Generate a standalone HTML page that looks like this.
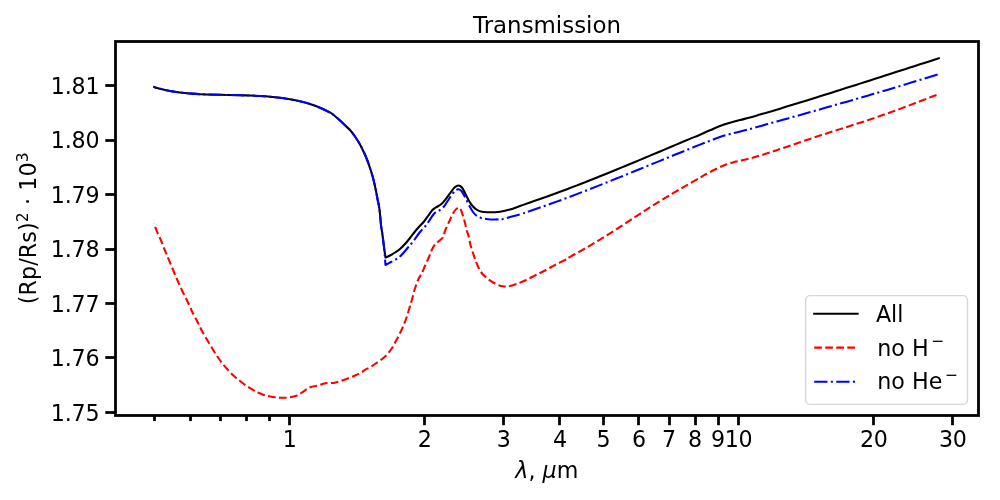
<!DOCTYPE html>
<html lang="en"><head><meta charset="utf-8"><title>Transmission</title>
<style>html,body{margin:0;padding:0;background:#fff;width:1000px;height:500px;overflow:hidden}</style>
</head><body>
<svg width="1000" height="500" viewBox="0 0 1000 500" style="display:block;position:absolute;left:0;top:0">
<rect width="1000" height="500" fill="#fff"/>
<g font-family="'DejaVu Sans', 'Liberation Sans', sans-serif" font-size="22.2px" fill="#000">
<defs><clipPath id="c"><rect x="115.5" y="41.5" width="863.0" height="374.0"/></clipPath></defs>
<g clip-path="url(#c)" fill="none" stroke-linejoin="round">
<path d="M154.20,87.10C155.17,87.38 157.37,88.15 160.00,88.80C162.63,89.45 166.67,90.38 170.00,91.00C173.33,91.62 176.67,92.08 180.00,92.50C183.33,92.92 186.67,93.22 190.00,93.50C193.33,93.78 195.00,93.98 200.00,94.20C205.00,94.42 213.33,94.62 220.00,94.80C226.67,94.98 235.00,95.18 240.00,95.30C245.00,95.42 246.67,95.38 250.00,95.50C253.33,95.62 256.67,95.80 260.00,96.00C263.33,96.20 266.67,96.40 270.00,96.70C273.33,97.00 276.67,97.37 280.00,97.80C283.33,98.23 286.67,98.72 290.00,99.30C293.33,99.88 296.67,100.52 300.00,101.30C303.33,102.08 306.67,102.93 310.00,104.00C313.33,105.07 316.67,106.28 320.00,107.70C323.33,109.12 327.83,111.37 330.00,112.50C332.17,113.63 331.33,113.17 333.00,114.50C334.67,115.83 338.00,118.70 340.00,120.50C342.00,122.30 343.33,123.72 345.00,125.30C346.67,126.88 348.33,128.13 350.00,130.00C351.67,131.87 353.33,134.08 355.00,136.50C356.67,138.92 358.50,141.83 360.00,144.50C361.50,147.17 362.83,150.00 364.00,152.50C365.17,155.00 366.00,156.92 367.00,159.50C368.00,162.08 369.08,165.25 370.00,168.00C370.92,170.75 371.75,173.33 372.50,176.00C373.25,178.67 373.92,181.50 374.50,184.00C375.08,186.50 375.50,188.50 376.00,191.00C376.50,193.50 376.92,195.92 377.50,199.00C378.08,202.08 378.92,205.17 379.50,209.50C380.08,213.83 380.50,220.75 381.00,225.00C381.50,229.25 382.00,231.33 382.50,235.00C383.00,238.67 383.50,243.25 384.00,247.00C384.50,250.75 385.25,255.75 385.50,257.50L385.50,257.50C386.25,257.17 388.42,256.33 390.00,255.50C391.58,254.67 393.33,253.58 395.00,252.50C396.67,251.42 398.33,250.42 400.00,249.00C401.67,247.58 403.33,245.83 405.00,244.00C406.67,242.17 408.33,240.08 410.00,238.00C411.67,235.92 413.33,233.53 415.00,231.50C416.67,229.47 418.50,227.47 420.00,225.80C421.50,224.13 422.67,223.13 424.00,221.50C425.33,219.87 426.67,217.83 428.00,216.00C429.33,214.17 430.83,211.83 432.00,210.50C433.17,209.17 433.67,208.92 435.00,208.00C436.33,207.08 438.67,205.92 440.00,205.00C441.33,204.08 441.83,203.75 443.00,202.50C444.17,201.25 445.67,199.25 447.00,197.50C448.33,195.75 449.75,193.67 451.00,192.00C452.25,190.33 453.25,188.58 454.50,187.50C455.75,186.42 457.25,185.50 458.50,185.50C459.75,185.50 460.92,186.25 462.00,187.50C463.08,188.75 463.83,190.75 465.00,193.00C466.17,195.25 467.67,198.75 469.00,201.00C470.33,203.25 471.67,205.03 473.00,206.50C474.33,207.97 475.50,208.92 477.00,209.80C478.50,210.68 480.17,211.38 482.00,211.80C483.83,212.22 486.00,212.23 488.00,212.30C490.00,212.37 492.00,212.28 494.00,212.20C496.00,212.12 497.33,212.25 500.00,211.80C502.67,211.35 506.67,210.47 510.00,209.50C513.33,208.53 516.67,207.17 520.00,206.00C523.33,204.83 526.67,203.67 530.00,202.51C533.33,201.35 536.67,200.23 540.00,199.06C543.33,197.89 546.67,196.70 550.00,195.49C553.33,194.29 556.67,193.07 560.00,191.83C563.33,190.59 566.67,189.33 570.00,188.07C573.33,186.80 576.67,185.51 580.00,184.22C583.33,182.92 586.67,181.61 590.00,180.29C593.33,178.97 596.67,177.64 600.00,176.30C603.33,174.96 606.67,173.61 610.00,172.25C613.33,170.89 616.67,169.53 620.00,168.15C623.33,166.78 626.67,165.40 630.00,164.02C633.33,162.63 636.67,161.24 640.00,159.85C643.33,158.45 646.67,157.06 650.00,155.66C653.33,154.26 656.67,152.86 660.00,151.45C663.33,150.05 666.67,148.65 670.00,147.25C673.33,145.85 676.67,144.45 680.00,143.05C683.33,141.65 686.67,140.25 690.00,138.86C693.33,137.47 696.67,136.14 700.00,134.70C703.33,133.27 706.67,131.70 710.00,130.25C713.33,128.80 716.67,127.25 720.00,126.00C723.33,124.75 726.67,123.75 730.00,122.75C733.33,121.75 736.67,120.87 740.00,120.00C743.33,119.13 746.67,118.42 750.00,117.52C753.33,116.62 756.67,115.58 760.00,114.60C763.33,113.62 766.67,112.63 770.00,111.64C773.33,110.64 776.67,109.64 780.00,108.64C783.33,107.63 786.67,106.62 790.00,105.60C793.33,104.58 796.67,103.56 800.00,102.53C803.33,101.50 806.67,100.47 810.00,99.43C813.33,98.40 816.67,97.35 820.00,96.31C823.33,95.26 826.67,94.22 830.00,93.16C833.33,92.11 836.67,91.06 840.00,90.00C843.33,88.94 846.67,87.88 850.00,86.81C853.33,85.75 856.67,84.69 860.00,83.62C863.33,82.55 866.67,81.48 870.00,80.41C873.33,79.34 876.67,78.27 880.00,77.20C883.33,76.13 886.67,75.06 890.00,73.98C893.33,72.91 896.67,71.84 900.00,70.76C903.33,69.69 906.67,68.62 910.00,67.55C913.33,66.48 916.67,65.41 920.00,64.34C923.33,63.27 926.87,62.14 930.00,61.14C933.13,60.13 937.33,58.80 938.80,58.33" stroke="#000" stroke-width="2.08" stroke-linecap="square"/>
<path d="M154.00,223.50C154.42,224.65 155.33,227.57 156.50,230.40C157.67,233.23 159.58,237.12 161.00,240.50C162.42,243.88 163.67,247.42 165.00,250.70C166.33,253.98 167.58,256.82 169.00,260.20C170.42,263.58 172.00,267.45 173.50,271.00C175.00,274.55 176.50,278.08 178.00,281.50C179.50,284.92 180.92,288.17 182.50,291.50C184.08,294.83 186.08,298.58 187.50,301.50C188.92,304.42 190.25,307.33 191.00,309.00C191.75,310.67 191.00,309.50 192.00,311.50C193.00,313.50 195.33,317.75 197.00,321.00C198.67,324.25 200.25,327.75 202.00,331.00C203.75,334.25 205.63,337.33 207.50,340.50C209.37,343.67 211.62,347.42 213.20,350.00C214.78,352.58 215.53,353.83 217.00,356.00C218.47,358.17 220.17,360.67 222.00,363.00C223.83,365.33 226.00,367.83 228.00,370.00C230.00,372.17 232.00,374.17 234.00,376.00C236.00,377.83 238.00,379.42 240.00,381.00C242.00,382.58 244.00,384.12 246.00,385.50C248.00,386.88 250.00,388.13 252.00,389.30C254.00,390.47 256.00,391.55 258.00,392.50C260.00,393.45 262.00,394.35 264.00,395.00C266.00,395.65 268.00,396.02 270.00,396.40C272.00,396.78 273.83,397.07 276.00,397.30C278.17,397.53 280.67,397.80 283.00,397.80C285.33,397.80 287.67,397.68 290.00,397.30C292.33,396.92 295.00,396.30 297.00,395.50C299.00,394.70 300.33,393.58 302.00,392.50C303.67,391.42 305.50,389.92 307.00,389.00C308.50,388.08 309.33,387.53 311.00,387.00C312.67,386.47 315.17,386.27 317.00,385.80C318.83,385.33 320.58,384.63 322.00,384.20C323.42,383.77 324.17,383.40 325.50,383.20C326.83,383.00 328.42,383.08 330.00,383.00C331.58,382.92 333.33,383.00 335.00,382.70C336.67,382.40 338.00,381.85 340.00,381.20C342.00,380.55 344.50,379.75 347.00,378.80C349.50,377.85 352.50,376.63 355.00,375.50C357.50,374.37 360.33,372.95 362.00,372.00C363.67,371.05 363.67,370.58 365.00,369.80C366.33,369.02 368.33,368.27 370.00,367.30C371.67,366.33 372.67,365.63 375.00,364.00C377.33,362.37 381.33,359.92 384.00,357.50C386.67,355.08 388.92,352.42 391.00,349.50C393.08,346.58 394.75,343.25 396.50,340.00C398.25,336.75 400.00,333.25 401.50,330.00C403.00,326.75 404.25,323.92 405.50,320.50C406.75,317.08 407.92,313.00 409.00,309.50C410.08,306.00 411.00,303.00 412.00,299.50C413.00,296.00 413.92,291.92 415.00,288.50C416.08,285.08 417.42,281.45 418.50,279.00C419.58,276.55 420.42,275.97 421.50,273.80C422.58,271.63 423.75,268.80 425.00,266.00C426.25,263.20 427.83,259.75 429.00,257.00C430.17,254.25 431.00,251.58 432.00,249.50C433.00,247.42 433.83,245.92 435.00,244.50C436.17,243.08 437.67,242.25 439.00,241.00C440.33,239.75 441.92,238.92 443.00,237.00C444.08,235.08 444.50,232.00 445.50,229.50C446.50,227.00 447.92,224.33 449.00,222.00C450.08,219.67 451.08,217.33 452.00,215.50C452.92,213.67 453.67,212.17 454.50,211.00C455.33,209.83 456.25,209.03 457.00,208.50C457.75,207.97 458.33,207.55 459.00,207.80C459.67,208.05 460.33,208.63 461.00,210.00C461.67,211.37 462.33,213.83 463.00,216.00C463.67,218.17 464.42,220.75 465.00,223.00C465.58,225.25 465.83,227.08 466.50,229.50C467.17,231.92 468.33,234.92 469.00,237.50C469.67,240.08 469.83,242.42 470.50,245.00C471.17,247.58 472.17,250.42 473.00,253.00C473.83,255.58 474.58,258.08 475.50,260.50C476.42,262.92 477.33,265.25 478.50,267.50C479.67,269.75 480.92,272.08 482.50,274.00C484.08,275.92 486.08,277.50 488.00,279.00C489.92,280.50 492.00,281.88 494.00,283.00C496.00,284.12 498.17,285.12 500.00,285.70C501.83,286.28 503.33,286.45 505.00,286.50C506.67,286.55 508.00,286.45 510.00,286.00C512.00,285.55 514.50,284.72 517.00,283.80C519.50,282.88 522.00,281.88 525.00,280.50C528.00,279.12 531.67,277.17 535.00,275.50C538.33,273.83 541.67,272.25 545.00,270.50C548.33,268.75 551.67,266.75 555.00,265.00C558.33,263.25 562.50,261.36 565.00,260.00C567.50,258.64 567.50,258.31 570.00,256.86C572.50,255.41 576.67,253.19 580.00,251.31C583.33,249.42 586.67,247.52 590.00,245.57C593.33,243.61 596.67,241.61 600.00,239.57C603.33,237.53 606.67,235.44 610.00,233.33C613.33,231.22 616.67,229.05 620.00,226.89C623.33,224.73 626.67,222.53 630.00,220.35C633.33,218.16 636.67,215.96 640.00,213.80C643.33,211.63 646.67,209.46 650.00,207.34C653.33,205.22 656.67,203.12 660.00,201.06C663.33,199.00 666.67,196.98 670.00,195.00C673.33,193.02 676.67,191.08 680.00,189.15C683.33,187.22 686.67,185.35 690.00,183.44C693.33,181.52 697.38,179.21 700.00,177.68C702.62,176.15 703.17,175.66 705.75,174.25C708.33,172.84 712.21,170.83 715.50,169.25C718.79,167.67 722.50,165.92 725.50,164.75C728.50,163.58 731.71,162.79 733.50,162.25C735.29,161.71 735.17,161.76 736.25,161.50C737.33,161.24 737.71,161.21 740.00,160.69C742.29,160.18 746.67,159.27 750.00,158.42C753.33,157.58 756.67,156.60 760.00,155.61C763.33,154.61 766.67,153.54 770.00,152.45C773.33,151.37 776.67,150.24 780.00,149.11C783.33,147.98 786.67,146.83 790.00,145.69C793.33,144.55 796.67,143.40 800.00,142.27C803.33,141.14 806.67,140.01 810.00,138.90C813.33,137.78 816.67,136.68 820.00,135.59C823.33,134.49 826.67,133.41 830.00,132.34C833.33,131.26 836.67,130.19 840.00,129.13C843.33,128.06 846.67,127.00 850.00,125.93C853.33,124.85 856.67,123.78 860.00,122.70C863.33,121.61 866.67,120.52 870.00,119.41C873.33,118.29 876.67,117.17 880.00,116.02C883.33,114.87 886.67,113.70 890.00,112.51C893.33,111.32 896.67,110.10 900.00,108.87C903.33,107.63 906.67,106.37 910.00,105.11C913.33,103.84 916.67,102.54 920.00,101.26C923.33,99.97 926.83,98.60 930.00,97.39C933.17,96.17 937.50,94.54 939.00,93.97" stroke="#f00" stroke-width="2.08" stroke-dasharray="7.70,3.33" stroke-dashoffset="7.4"/>
<path d="M154.20,87.10C155.17,87.38 157.37,88.15 160.00,88.80C162.63,89.45 166.67,90.38 170.00,91.00C173.33,91.62 176.67,92.08 180.00,92.50C183.33,92.92 186.67,93.22 190.00,93.50C193.33,93.78 195.00,93.98 200.00,94.20C205.00,94.42 213.33,94.62 220.00,94.80C226.67,94.98 235.00,95.18 240.00,95.30C245.00,95.42 246.67,95.38 250.00,95.50C253.33,95.62 256.67,95.80 260.00,96.00C263.33,96.20 266.67,96.40 270.00,96.70C273.33,97.00 276.67,97.37 280.00,97.80C283.33,98.23 286.67,98.72 290.00,99.30C293.33,99.88 296.67,100.52 300.00,101.30C303.33,102.08 306.67,102.93 310.00,104.00C313.33,105.07 316.67,106.28 320.00,107.70C323.33,109.12 327.83,111.37 330.00,112.50C332.17,113.63 331.33,113.17 333.00,114.50C334.67,115.83 338.00,118.70 340.00,120.50C342.00,122.30 343.33,123.72 345.00,125.30C346.67,126.88 348.33,128.13 350.00,130.00C351.67,131.87 353.33,134.08 355.00,136.50C356.67,138.92 358.50,141.83 360.00,144.50C361.50,147.17 362.83,150.00 364.00,152.50C365.17,155.00 366.00,156.92 367.00,159.50C368.00,162.08 369.08,165.25 370.00,168.00C370.92,170.75 371.75,173.33 372.50,176.00C373.25,178.67 373.92,181.50 374.50,184.00C375.08,186.50 375.50,188.50 376.00,191.00C376.50,193.50 376.92,195.92 377.50,199.00C378.08,202.08 378.92,205.17 379.50,209.50C380.08,213.83 380.50,220.75 381.00,225.00C381.50,229.25 382.00,231.33 382.50,235.00C383.00,238.67 383.50,242.00 384.00,247.00C384.50,252.00 385.25,262.00 385.50,265.00L385.50,265.00C386.42,264.50 389.17,263.00 391.00,262.00C392.83,261.00 394.75,260.17 396.50,259.00C398.25,257.83 399.58,256.92 401.50,255.00C403.42,253.08 406.33,249.42 408.00,247.50C409.67,245.58 410.33,244.92 411.50,243.50C412.67,242.08 413.58,240.92 415.00,239.00C416.42,237.08 418.25,234.17 420.00,232.00C421.75,229.83 424.00,227.83 425.50,226.00C427.00,224.17 427.75,222.83 429.00,221.00C430.25,219.17 431.83,216.50 433.00,215.00C434.17,213.50 434.83,212.83 436.00,212.00C437.17,211.17 438.67,210.92 440.00,210.00C441.33,209.08 442.67,208.08 444.00,206.50C445.33,204.92 446.67,202.50 448.00,200.50C449.33,198.50 450.75,196.17 452.00,194.50C453.25,192.83 454.42,191.38 455.50,190.50C456.58,189.62 457.50,189.12 458.50,189.20C459.50,189.28 460.42,189.70 461.50,191.00C462.58,192.30 463.75,194.67 465.00,197.00C466.25,199.33 467.67,202.50 469.00,205.00C470.33,207.50 471.67,210.17 473.00,212.00C474.33,213.83 475.50,214.97 477.00,216.00C478.50,217.03 480.17,217.67 482.00,218.20C483.83,218.73 486.00,218.98 488.00,219.20C490.00,219.42 492.00,219.48 494.00,219.50C496.00,219.52 498.50,219.38 500.00,219.30C501.50,219.22 500.67,219.55 503.00,219.00C505.33,218.45 510.33,217.03 514.00,216.00C517.67,214.97 522.33,213.64 525.00,212.80C527.67,211.96 527.50,211.85 530.00,210.98C532.50,210.10 536.67,208.72 540.00,207.56C543.33,206.40 546.67,205.22 550.00,204.03C553.33,202.84 556.67,201.63 560.00,200.41C563.33,199.18 566.67,197.95 570.00,196.70C573.33,195.44 576.67,194.18 580.00,192.90C583.33,191.63 586.67,190.34 590.00,189.04C593.33,187.75 596.67,186.44 600.00,185.12C603.33,183.81 606.67,182.48 610.00,181.15C613.33,179.82 616.67,178.48 620.00,177.13C623.33,175.79 626.67,174.44 630.00,173.09C633.33,171.73 636.67,170.37 640.00,169.01C643.33,167.66 646.67,166.29 650.00,164.93C653.33,163.57 656.67,162.20 660.00,160.84C663.33,159.48 666.67,158.11 670.00,156.75C673.33,155.39 676.67,154.03 680.00,152.68C683.33,151.33 686.67,149.98 690.00,148.63C693.33,147.29 696.67,145.92 700.00,144.61C703.33,143.31 706.67,142.07 710.00,140.80C713.33,139.53 716.67,138.13 720.00,137.00C723.33,135.87 726.46,134.97 730.00,134.00C733.54,133.03 737.58,132.13 741.25,131.20C744.92,130.27 748.54,129.35 752.00,128.43C755.46,127.50 758.67,126.57 762.00,125.64C765.33,124.72 768.67,123.79 772.00,122.86C775.33,121.93 778.67,121.00 782.00,120.06C785.33,119.13 788.67,118.20 792.00,117.26C795.33,116.33 798.67,115.39 802.00,114.45C805.33,113.51 808.67,112.57 812.00,111.63C815.33,110.69 818.67,109.74 822.00,108.80C825.33,107.85 828.67,106.90 832.00,105.95C835.33,104.99 838.67,104.04 842.00,103.08C845.33,102.12 848.67,101.16 852.00,100.19C855.33,99.22 858.67,98.26 862.00,97.28C865.33,96.31 868.67,95.33 872.00,94.35C875.33,93.37 878.67,92.38 882.00,91.39C885.33,90.40 888.67,89.41 892.00,88.41C895.33,87.41 898.67,86.41 902.00,85.40C905.33,84.39 908.67,83.38 912.00,82.36C915.33,81.34 918.67,80.31 922.00,79.28C925.33,78.25 929.17,77.06 932.00,76.17C934.83,75.29 937.83,74.34 939.00,73.97" stroke="#00f" stroke-width="2.08" stroke-dasharray="13.31,3.33,2.08,3.33" stroke-dashoffset="11.04"/>
</g>
<g stroke="#000" stroke-width="2.78" fill="none">
<line x1="105.30" y1="85.5" x2="115.5" y2="85.5"/>
<line x1="105.30" y1="140.5" x2="115.5" y2="140.5"/>
<line x1="105.30" y1="194.5" x2="115.5" y2="194.5"/>
<line x1="105.30" y1="249.5" x2="115.5" y2="249.5"/>
<line x1="105.30" y1="303.5" x2="115.5" y2="303.5"/>
<line x1="105.30" y1="357.5" x2="115.5" y2="357.5"/>
<line x1="105.30" y1="412.5" x2="115.5" y2="412.5"/>
<line x1="289.50" y1="415.5" x2="289.50" y2="425.22"/>
<line x1="424.50" y1="415.5" x2="424.50" y2="425.22"/>
<line x1="503.50" y1="415.5" x2="503.50" y2="425.22"/>
<line x1="559.50" y1="415.5" x2="559.50" y2="425.22"/>
<line x1="603.50" y1="415.5" x2="603.50" y2="425.22"/>
<line x1="638.50" y1="415.5" x2="638.50" y2="425.22"/>
<line x1="669.50" y1="415.5" x2="669.50" y2="425.22"/>
<line x1="695.50" y1="415.5" x2="695.50" y2="425.22"/>
<line x1="718.50" y1="415.5" x2="718.50" y2="425.22"/>
<line x1="738.50" y1="415.5" x2="738.50" y2="425.22"/>
<line x1="873.50" y1="415.5" x2="873.50" y2="425.22"/>
<line x1="952.50" y1="415.5" x2="952.50" y2="425.22"/>
<line x1="154.50" y1="415.5" x2="154.50" y2="421.06"/>
<line x1="190.50" y1="415.5" x2="190.50" y2="421.06"/>
<line x1="220.50" y1="415.5" x2="220.50" y2="421.06"/>
<line x1="246.50" y1="415.5" x2="246.50" y2="421.06"/>
<line x1="269.50" y1="415.5" x2="269.50" y2="421.06"/>
<rect x="115.5" y="41.5" width="863.0" height="374.0" stroke-linejoin="miter"/>
</g>
<text x="99.5" y="93.50" text-anchor="end" letter-spacing="-0.15">1.81</text>
<text x="99.5" y="148.00" text-anchor="end" letter-spacing="-0.15">1.80</text>
<text x="99.5" y="202.50" text-anchor="end" letter-spacing="-0.15">1.79</text>
<text x="99.5" y="257.00" text-anchor="end" letter-spacing="-0.15">1.78</text>
<text x="99.5" y="311.50" text-anchor="end" letter-spacing="-0.15">1.77</text>
<text x="99.5" y="366.00" text-anchor="end" letter-spacing="-0.15">1.76</text>
<text x="99.5" y="420.50" text-anchor="end" letter-spacing="-0.15">1.75</text>
<text x="289.80" y="446.5" text-anchor="middle">1</text>
<text x="424.90" y="446.5" text-anchor="middle">2</text>
<text x="503.93" y="446.5" text-anchor="middle">3</text>
<text x="560.00" y="446.5" text-anchor="middle">4</text>
<text x="603.50" y="446.5" text-anchor="middle">5</text>
<text x="639.03" y="446.5" text-anchor="middle">6</text>
<text x="669.08" y="446.5" text-anchor="middle">7</text>
<text x="695.11" y="446.5" text-anchor="middle">8</text>
<text x="718.06" y="446.5" text-anchor="middle">9</text>
<text x="738.60" y="446.5" text-anchor="middle" letter-spacing="-0.3">10</text>
<text x="873.70" y="446.5" text-anchor="middle" letter-spacing="-0.3">20</text>
<text x="952.73" y="446.5" text-anchor="middle" letter-spacing="-0.3">30</text>
<text x="547.00" y="33.1" text-anchor="middle" font-size="22.9px">Transmission</text>
<text x="546.80" y="477.8" text-anchor="middle"><tspan font-style="oblique">λ</tspan>, <tspan font-style="oblique">μ</tspan>m</text>
<text transform="translate(35.8,228.30) rotate(-90)" text-anchor="middle" letter-spacing="0.1">(Rp/Rs)<tspan font-size="15.54px" dy="-8.1">2</tspan><tspan dy="8.1"> · 10</tspan><tspan font-size="15.54px" dy="-8.1">3</tspan></text>
<rect x="805.6" y="295.6" width="161.9" height="108.8" rx="4.4" ry="4.4" fill="#fff" fill-opacity="0.8" stroke="#ccc" stroke-opacity="0.8" stroke-width="1.39"/>
<line x1="814.2" y1="313.8" x2="857.6" y2="313.8" stroke="#000" stroke-width="2.08" stroke-linecap="square"/>
<line x1="814.2" y1="347.6" x2="857.6" y2="347.6" stroke="#f00" stroke-width="2.08" stroke-dasharray="7.70,3.33"/>
<line x1="814.2" y1="381.8" x2="857.6" y2="381.8" stroke="#00f" stroke-width="2.08" stroke-dasharray="13.31,3.33,2.08,3.33"/>
<text x="875.9" y="322.0">All</text>
<text x="877.3" y="355.6">no H<tspan font-size="15.54px" dy="-9.8" dx="2.3">−</tspan></text>
<text x="877.3" y="389.4">no He<tspan font-size="15.54px" dy="-9.8" dx="2.3">−</tspan></text>
</g></svg>
</body></html>
